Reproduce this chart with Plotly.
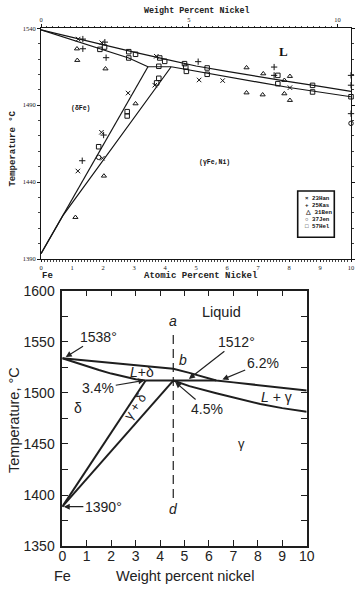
import plotly.graph_objects as go

W, H = 358, 592

# ---------------- Top chart data (atomic % Ni, temperature °C) ----------------
top_liq_x = [0, 1, 2, 3, 4, 5, 6, 7, 8, 9, 10]
top_liq_t = [1539, 1534, 1529.3, 1524.5, 1520, 1515.5, 1512, 1508.5, 1505.3, 1502.2, 1499]
top_dsol_x = [0, 1, 2, 2.83, 3.45]
top_dsol_t = [1539, 1532.5, 1526.5, 1520.7, 1515]
top_peri_x = [3.45, 4.2]
top_peri_t = [1515, 1515]
top_gsol_x = [4.2, 5, 6, 7, 8, 9, 10]
top_gsol_t = [1515, 1512, 1508.5, 1505, 1501.5, 1498.5, 1495.5]
top_dsolv_x = [0, 3.45]
top_dsolv_t = [1393.5, 1515]
top_gsolv_x = [0, 0.7, 4.2]
top_gsolv_t = [1393.5, 1418, 1515]

han_x = [1.2, 1.96, 3.72, 3.67, 2.81, 5.1, 5.86, 8.03, 1.95, 1.19, 1.98]
han_t = [1533, 1530.6, 1521.8, 1503, 1497.9, 1506.4, 1506, 1501.4, 1472.4, 1447.2, 1455.5]
kas_x = [1.35, 1.35, 2.06, 2.1, 5.07, 7.52, 7.52, 2.02, 1.33, 10, 10, 10]
kas_t = [1533, 1526.7, 1531, 1520.9, 1518.3, 1514.8, 1509.4, 1470.6, 1453.9, 1509.4, 1503, 1484.5]
ben_x = [1.16, 1.17, 2.08, 3.05, 6.63, 7.17, 8.03, 7.85, 6.63, 7.15, 7.85, 8.03, 2.03, 1.11]
ben_t = [1526.7, 1519.2, 1513.7, 1491, 1514.4, 1510.5, 1508.8, 1506.2, 1498.1, 1496.8, 1497.5, 1493.2, 1444, 1417.1]
jen_x = [1.86, 10]
jen_t = [1456.1, 1478.2]
hel_x = [2.05, 1.9, 2.83, 3.05, 2.83, 3.83, 3.99, 3.8, 4.63, 4.67, 4.69, 5.36, 5.36, 7.64, 7.64,
         8.76, 8.76, 3.8, 3.73, 2.78, 2.78, 1.86, 10]
hel_t = [1527.8, 1526.3, 1524.8, 1523.1, 1520.7, 1520.7, 1518.5, 1515.3, 1517, 1514.8, 1512, 1514.2,
         1510.1, 1509.4, 1504, 1502.9, 1498.6, 1507.5, 1504.5, 1485.8, 1483, 1463, 1495.5]

top_temp_ticks = [1390, 1440, 1490, 1540]
top_at_ticks = [0, 1, 2, 3, 4, 5, 6, 7, 8, 9, 10]
top_wt_ticks = [0, 5, 10]
legend_names = ["23Han", "25Kas", "31Ben", "37Jen", "57Hel"]
legend_syms = ["×", "+", "△", "○", "□"]

# ---------------- Bottom chart data (weight % Ni, temperature °C) ----------------
liq_x = [0, 1, 2, 3, 4, 4.54, 5.2, 5.8, 6.3, 7, 8, 9, 10]
liq_t = [1533.8, 1531.5, 1529.3, 1527, 1525, 1523.5, 1519.5, 1515, 1512, 1510.2, 1507.5, 1504.9, 1502.3]
dsol_x = [0, 0.5, 1, 1.5, 2, 2.5, 3, 3.41]
dsol_t = [1533.8, 1529.8, 1526, 1522.3, 1518.8, 1515.8, 1513.3, 1512]
peri_x = [3.41, 6.3]
peri_t = [1512, 1512]
gsol_x = [4.54, 5.2, 6.3, 7, 8.1, 9, 10]
gsol_t = [1512, 1506.5, 1499.5, 1495.5, 1489, 1485, 1481.5]
dsolv_x = [0, 3.41]
dsolv_t = [1388.6, 1512]
gsolv_x = [0, 4.54]
gsolv_t = [1388.6, 1512]
alloy_x = [4.54, 4.54]
alloy_t = [1397, 1561.5]


def at_from_wt(w):
    a = w / 58.69
    b = (100 - w) / 55.845
    return 100 * a / (a + b)


def px(xp):
    return xp / W


def py(yp):
    return 1 - yp / H


fig = go.Figure()

TOPC = "#151515"
top_lines = [(top_liq_x, top_liq_t), (top_dsol_x, top_dsol_t), (top_peri_x, top_peri_t),
             (top_gsol_x, top_gsol_t), (top_dsolv_x, top_dsolv_t), (top_gsolv_x, top_gsolv_t)]
for xs, ts in top_lines:
    fig.add_trace(go.Scatter(x=xs, y=ts, mode="lines", xaxis="x", yaxis="y",
                             line=dict(color=TOPC, width=1.2), showlegend=False, hoverinfo="skip"))

marker_sets = [
    (han_x, han_t, "x-thin-open", 4.5),
    (kas_x, kas_t, "cross-thin-open", 4.5),
    (ben_x, ben_t, "triangle-up-open", 4.5),
    (jen_x, jen_t, "circle-open", 4.5),
    (hel_x, hel_t, "square-open", 4.5),
]
for (xs, ts, sym, sz), name in zip(marker_sets, legend_names):
    fig.add_trace(go.Scatter(x=xs, y=ts, mode="markers", xaxis="x", yaxis="y", name=name,
                             marker=dict(symbol=sym, size=sz, color=TOPC, line=dict(color=TOPC, width=1)),
                             showlegend=False, cliponaxis=False))

# dummy trace so that the top (weight %) axis exists
fig.add_trace(go.Scatter(x=[None], y=[None], xaxis="x3", yaxis="y", showlegend=False, hoverinfo="skip"))

BOTC = "#1e1e1e"
bot_lines = [(liq_x, liq_t), (dsol_x, dsol_t), (peri_x, peri_t), (gsol_x, gsol_t),
             (dsolv_x, dsolv_t), (gsolv_x, gsolv_t)]
for xs, ts in bot_lines:
    fig.add_trace(go.Scatter(x=xs, y=ts, mode="lines", xaxis="x2", yaxis="y2",
                             line=dict(color=BOTC, width=2), showlegend=False, hoverinfo="skip"))
fig.add_trace(go.Scatter(x=alloy_x, y=alloy_t, mode="lines", xaxis="x2", yaxis="y2",
                         line=dict(color=BOTC, width=1.2, dash="9px,5px"), showlegend=False, hoverinfo="skip"))

SER = "Liberation Serif"
MONO = "Liberation Mono"
SANS = "Liberation Sans"

top_dom_x = [px(41), px(351)]
top_dom_y = [py(259), py(28.3)]
bot_dom_x = [px(62.3), px(306.7)]
bot_dom_y = [py(546.1), py(290.6)]

fig.update_layout(
    template="none",
    width=W, height=H, margin=dict(l=0, r=0, t=0, b=0, pad=0, autoexpand=False),
    paper_bgcolor="white", plot_bgcolor="white", showlegend=False,
    xaxis=dict(domain=top_dom_x, anchor="y", range=[0, 10], tickmode="array", tickvals=top_at_ticks,
               automargin=False,
               ticks="outside", ticklen=2, tickwidth=1, tickcolor=TOPC,
               tickfont=dict(family=SER, size=6.5, color="#222"),
               showline=True, linecolor=TOPC, linewidth=1, showgrid=False, zeroline=False,
               minor=dict(dtick=0.1, ticks="outside", ticklen=1.5, tickcolor="#444", tickwidth=1, showgrid=False)),
    xaxis3=dict(overlaying="x", side="top", anchor="y", range=[0, 10], tickmode="array", automargin=False,
                tickvals=[at_from_wt(w) for w in top_wt_ticks], ticktext=[str(w) for w in top_wt_ticks],
                ticks="outside", ticklen=3, tickwidth=1, tickcolor=TOPC,
                tickfont=dict(family=SER, size=6.5, color="#222"),
                showline=True, linecolor=TOPC, linewidth=1, showgrid=False, zeroline=False,
                minor=dict(tickmode="array", tickvals=[at_from_wt(w / 5) for w in range(0, 51)],
                           ticks="outside", ticklen=1.5, tickcolor="#444", tickwidth=1, showgrid=False)),
    yaxis=dict(domain=top_dom_y, anchor="x", range=[1390, 1540], tickmode="array", tickvals=top_temp_ticks,
               automargin=False,
               ticks="outside", ticklen=3, tickwidth=1, tickcolor=TOPC,
               tickfont=dict(family=SER, size=6.5, color="#222"),
               showline=True, linecolor=TOPC, linewidth=1, mirror="ticks", showgrid=False, zeroline=False,
               minor=dict(dtick=10, ticks="outside", ticklen=2, tickcolor="#444", tickwidth=1, showgrid=False)),
    xaxis2=dict(domain=bot_dom_x, anchor="y2", range=[0, 10], dtick=1, tick0=0, automargin=False,
                ticks="inside", ticklen=6, tickwidth=1.3, tickcolor=BOTC, ticklabelstandoff=-4,
                tickfont=dict(family=SANS, size=14, color="#222"),
                showline=True, linecolor=BOTC, linewidth=1.6, mirror="ticks", showgrid=False, zeroline=False),
    yaxis2=dict(domain=bot_dom_y, anchor="x2", range=[1350, 1600], dtick=50, tick0=1350, automargin=False,
                ticks="inside", ticklen=6, tickwidth=1.3, tickcolor=BOTC, ticklabelstandoff=3,
                tickfont=dict(family=SANS, size=14, color="#222"),
                showline=True, linecolor=BOTC, linewidth=1.6, mirror="ticks", showgrid=False, zeroline=False,
                minor=dict(dtick=25, ticks="inside", ticklen=6, tickcolor=BOTC, tickwidth=1.3, showgrid=False)),
)

C = dict(xanchor="center", yanchor="middle")
ann = []
# ---- top chart texts ----
ann.append(dict(xref="paper", yref="paper", x=px(197), y=py(11), text="Weight Percent Nickel",
                showarrow=False, font=dict(family=MONO, size=8.4, color="#222", weight="bold"), **C))
ann.append(dict(xref="paper", yref="paper", x=px(201), y=py(276), text="Atomic Percent Nickel",
                showarrow=False, font=dict(family=MONO, size=9, color="#222", weight="bold"), **C))
ann.append(dict(xref="paper", yref="paper", x=px(47), y=py(276), text="Fe",
                showarrow=False, font=dict(family=MONO, size=9, color="#222", weight="bold"), **C))
ann.append(dict(xref="paper", yref="paper", x=px(13.3), y=py(148.3), text="Temperature °C", textangle=-90,
                showarrow=False, font=dict(family=MONO, size=9, color="#222", weight="bold"), **C))
ann.append(dict(xref="x", yref="y", x=7.82, y=1525, text="L", showarrow=False,
                font=dict(family=SER, size=13, color="#111", weight="bold"), **C))
ann.append(dict(xref="x", yref="y", x=1.29, y=1487.8, text="(δFe)", showarrow=False,
                font=dict(family=MONO, size=6.5, color="#111", weight="bold"), **C))
ann.append(dict(xref="x", yref="y", x=5.61, y=1452.6, text="(γFe,Ni)", showarrow=False,
                font=dict(family=MONO, size=6.5, color="#111", weight="bold"), **C))
legend_rows = [198.3, 205.3, 212.5, 219.7, 226.7]
for sym, name, yr in zip(legend_syms, legend_names, legend_rows):
    ann.append(dict(xref="paper", yref="paper", x=px(303), y=py(yr), xanchor="left", yanchor="middle",
                    text=sym + " " + name,
                    showarrow=False, font=dict(family=MONO, size=5.8, color="#111", weight="bold")))

# ---- bottom chart texts ----
BF = dict(family=SANS, size=14, color="#222")
ann.append(dict(xref="paper", yref="paper", x=px(14), y=py(420), text="Temperature, °C", textangle=-90,
                showarrow=False, font=dict(family=SANS, size=14.5, color="#222"), **C))
ann.append(dict(xref="paper", yref="paper", x=px(185), y=py(576), text="Weight percent nickel",
                showarrow=False, font=dict(family=SANS, size=14.5, color="#222"), **C))
ann.append(dict(xref="paper", yref="paper", x=px(62), y=py(576), text="Fe",
                showarrow=False, font=dict(family=SANS, size=14.5, color="#222"), **C))

plain = [
    (6.52, 1579.4, "Liquid", 14.5, 0),
    (4.54, 1570.5, "<i>a</i>", 14, 0),
    (4.54, 1386.5, "<i>d</i>", 14, 0),
    (4.92, 1532, "<i>b</i>", 14, 0),
    (3.25, 1520.8, "<i>L</i>+δ", 14, 0),
    (8.77, 1496.2, "<i>L</i> + γ", 14, 0),
    (0.65, 1485, "δ", 14, 0),
    (7.34, 1450.6, "γ", 13, 0),
    (2.98, 1486.4, "γ + δ", 13, -56),
]
for x, y, t, s, ang in plain:
    ann.append(dict(xref="x2", yref="y2", x=x, y=y, text=t, showarrow=False, textangle=ang,
                    font=dict(family=SANS, size=s, color="#222"), **C))

arrows = [
    (0.14, 1535.0, 1.47, 1554.9, "1538°"),
    (5.18, 1513.6, 7.13, 1550.0, "1512°"),
    (6.55, 1513.0, 8.2, 1529.5, "6.2%"),
    (3.36, 1512.2, 1.47, 1504.4, "3.4%"),
    (4.62, 1510.5, 5.91, 1484.2, "4.5%"),
    (0.06, 1388.6, 1.68, 1388.6, "1390°"),
]
for hx, hy, tx, ty, t in arrows:
    ann.append(dict(xref="x2", yref="y2", x=hx, y=hy, ax=tx, ay=ty, axref="x2", ayref="y2",
                    text=t, showarrow=True, arrowhead=2, arrowsize=1, arrowwidth=1.2,
                    arrowcolor="#222", standoff=0, font=BF, **C))

fig.update_layout(annotations=ann)

fig.add_shape(type="rect", xref="paper", yref="paper", x0=px(297.7), x1=px(334.3), y0=py(237.3), y1=py(191),
              line=dict(color="#111", width=1.6), fillcolor="rgba(0,0,0,0)")

fig.write_html("out.html", config={"displayModeBar": False},
               post_script="document.body.style.margin='0px';document.body.style.padding='0px';"
                           "document.body.style.overflow='hidden';")
